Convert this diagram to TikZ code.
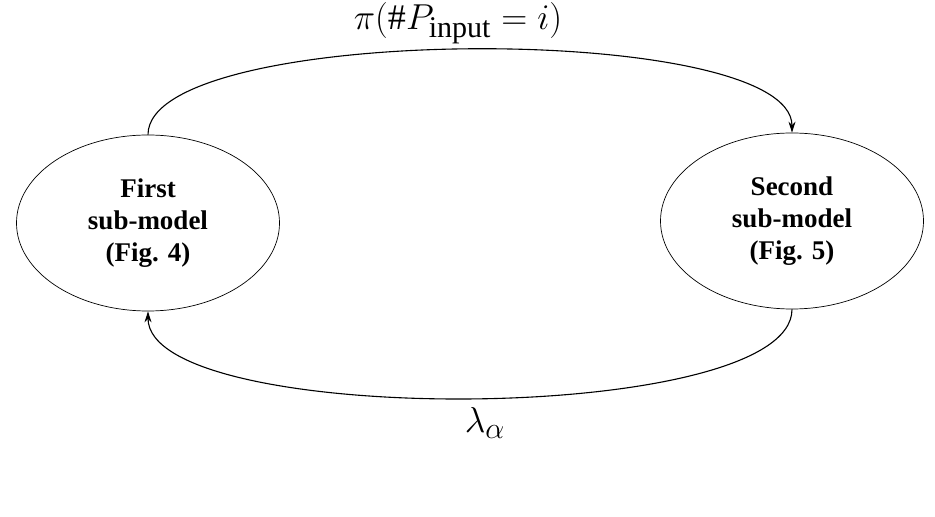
\documentclass[tikz,border=0pt]{standalone}
\usepackage{fontspec}
\setmainfont{Liberation Serif}
\usepackage{amsmath}
\usetikzlibrary{shapes.geometric,arrows.meta,calc}

\begin{document}
\begin{tikzpicture}[
      x=1pt, y=1pt,
      modele/.style={
        draw,
        ellipse,
        line width=0.7pt,
        minimum width=263pt,
        minimum height=176pt,
        align=center,
        font=\bfseries\fontsize{27}{32}\selectfont
      },
      taux/.style={
        font=\Huge,
        inner sep=0pt,
        scale=1.45,
        transform shape
      },
      arr/.style={
        -{Stealth[length=11pt,width=7pt]},
        line width=1.1pt
      }
    ]
    \useasboundingbox (0,0) rectangle (935,517);

    \node[taux] (pi) at (458,494) {$\pi(\#P_{\mathrm{input}} = i)$} ;
    \node[taux] (lambda) at (485,94) {$\lambda_{\alpha}$} ;

    \node[modele] (1) at (148,294) {First\\sub-model\\(Fig. 4)} ;
    \node[modele] (2) at (792,296) {Second\\sub-model\\(Fig. 5)} ;

	\draw[arr] (1.north) .. controls +(0,112) and +(0,112) .. (2.north) ;
	\draw[arr] (2.south) .. controls +(0,-117) and +(0,-117) .. (1.south) ;
  \end{tikzpicture}
\end{document}
